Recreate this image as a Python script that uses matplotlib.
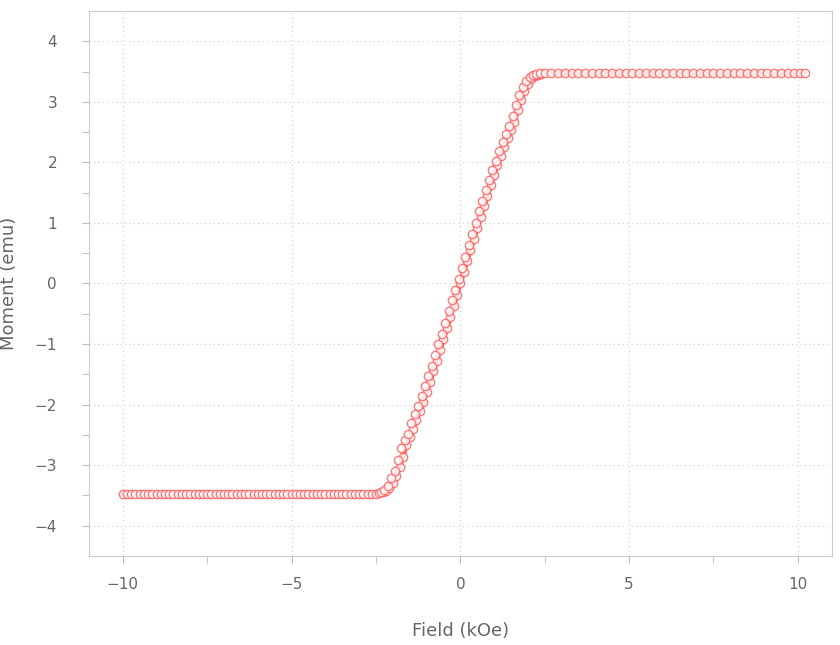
import matplotlib.pyplot as plt

# field points on the negative plateau (kOe)
field_neg = [-10.0, -9.875, -9.75, -9.625, -9.5, -9.375, -9.25, -9.125, -9.0, -8.875,
             -8.75, -8.625, -8.5, -8.375, -8.25, -8.125, -8.0, -7.875, -7.75, -7.625,
             -7.5, -7.375, -7.25, -7.125, -7.0, -6.875, -6.75, -6.625, -6.5, -6.375,
             -6.25, -6.125, -6.0, -5.875, -5.75, -5.625, -5.5, -5.375, -5.25, -5.125,
             -5.0, -4.875, -4.75, -4.625, -4.5, -4.375, -4.25, -4.125, -4.0, -3.875,
             -3.75, -3.625, -3.5, -3.375, -3.25, -3.125, -3.0, -2.875, -2.75, -2.625, -2.5]
moment_neg = [-3.47] * len(field_neg)

# field points on the positive plateau
field_pos = [2.5, 2.7, 2.9, 3.1, 3.3, 3.5, 3.7, 3.9, 4.1, 4.3, 4.5, 4.7, 4.9, 5.1, 5.3,
             5.5, 5.7, 5.9, 6.1, 6.3, 6.5, 6.7, 6.9, 7.1, 7.3, 7.5, 7.7, 7.9, 8.1, 8.3,
             8.5, 8.7, 8.9, 9.1, 9.3, 9.5, 9.7, 9.9, 10.05, 10.2]
moment_pos = [3.47] * len(field_pos)

# transition region, two sweeps
field_mid = [-2.4, -2.3, -2.2, -2.1, -2.0, -1.9, -1.8, -1.7, -1.6, -1.5, -1.4, -1.3, -1.2,
             -1.1, -1.0, -0.9, -0.8, -0.7, -0.6, -0.5, -0.4, -0.3, -0.2, -0.1, 0.0,
             0.1, 0.2, 0.3, 0.4, 0.5, 0.6, 0.7, 0.8, 0.9, 1.0, 1.1, 1.2, 1.3, 1.4,
             1.5, 1.6, 1.7, 1.8, 1.9, 2.0, 2.1, 2.2, 2.3, 2.4]
moment_mid = [-3.46, -3.45, -3.43, -3.38, -3.30, -3.18, -3.03, -2.86, -2.67, -2.53, -2.40,
              -2.26, -2.11, -1.95, -1.79, -1.62, -1.45, -1.28, -1.10, -0.92, -0.74, -0.55,
              -0.37, -0.19, 0.0, 0.19, 0.37, 0.55, 0.74, 0.92, 1.10, 1.28, 1.45, 1.62,
              1.79, 1.95, 2.11, 2.26, 2.40, 2.53, 2.67, 2.86, 3.03, 3.18, 3.30, 3.38,
              3.43, 3.45, 3.46]
field_mid2 = [-2.35, -2.25, -2.15, -2.05, -1.95, -1.85, -1.75, -1.65, -1.55, -1.45, -1.35,
              -1.25, -1.15, -1.05, -0.95, -0.85, -0.75, -0.65, -0.55, -0.45, -0.35, -0.25,
              -0.15, -0.05, 0.05, 0.15, 0.25, 0.35, 0.45, 0.55, 0.65, 0.75, 0.85, 0.95,
              1.05, 1.15, 1.25, 1.35, 1.45, 1.55, 1.65, 1.75, 1.85, 1.95, 2.05, 2.15, 2.25, 2.35]
moment_mid2 = [-3.44, -3.41, -3.34, -3.22, -3.10, -2.92, -2.72, -2.58, -2.48, -2.30, -2.16,
               -2.02, -1.86, -1.70, -1.52, -1.36, -1.18, -1.00, -0.83, -0.65, -0.46, -0.28,
               -0.10, 0.08, 0.26, 0.44, 0.63, 0.82, 1.00, 1.19, 1.37, 1.54, 1.71, 1.87,
               2.03, 2.19, 2.33, 2.47, 2.60, 2.77, 2.95, 3.11, 3.25, 3.35, 3.41, 3.44, 3.46, 3.47]

red = '#ff6262'
grey = '#666666'

fig, ax = plt.subplots(figsize=(8.4, 6.45), dpi=100)
fig.subplots_adjust(left=0.106, right=0.99, top=0.983, bottom=0.138)

ax.plot(field_neg + field_mid + field_pos, moment_neg + moment_mid + moment_pos,
        color=red, lw=3.5, zorder=2)
for fx, my in [(field_neg, moment_neg), (field_mid, moment_mid),
               (field_mid2, moment_mid2), (field_pos, moment_pos)]:
    ax.plot(fx, my, 'o', ms=6, mfc='white', mec=red, mew=1.0, alpha=0.85, zorder=3)

ax.set_xlim(-11, 11)
ax.set_ylim(-4.5, 4.5)
ax.set_xticks([-10, -5, 0, 5, 10])
ax.set_xticks([-7.5, -2.5, 2.5, 7.5], minor=True)
ax.set_yticks(range(-4, 5))
ax.set_yticks([-3.5, -2.5, -1.5, -0.5, 0.5, 1.5, 2.5, 3.5], minor=True)
ax.grid(True, which='major', ls=(0, (1, 3)), color='#cccccc', lw=0.8)
for s in ax.spines.values():
    s.set_color('#cccccc')
ax.tick_params(which='both', colors='#bbbbbb', labelcolor=grey, labelsize=11, length=5)
ax.tick_params(axis='y', pad=18)
ax.tick_params(axis='x', pad=10)
ax.set_xlabel('Field (kOe)', color=grey, fontsize=13, labelpad=22)
ax.set_ylabel('Moment (emu)', color=grey, fontsize=13, labelpad=12)

fig.savefig('out.png')
